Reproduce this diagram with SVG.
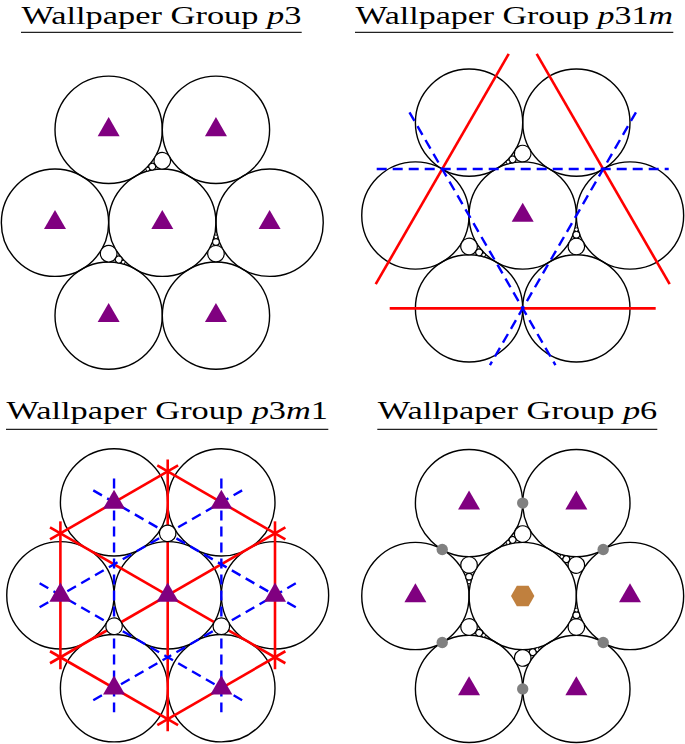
<svg xmlns="http://www.w3.org/2000/svg" xmlns:xlink="http://www.w3.org/1999/xlink" width="685" height="744" viewBox="0 0 685 744">
<style>
.t{font-family:"Liberation Serif","Times New Roman",serif;font-size:25.5px;fill:#000}
.i{font-style:italic}
.ul{stroke:#222;stroke-width:1.3}
.c{fill:none;stroke:#000;stroke-width:1.4}
.s{fill:#fff;stroke:#000;stroke-width:1.2}
.ss{fill:#fff;stroke:#000;stroke-width:0.9}
.red{stroke:#f00;stroke-width:2.6;fill:none}
.blue{stroke:#00f;stroke-width:2.4;stroke-dasharray:10 6;fill:none}
.tri{fill:#800080}
.dot{fill:#808080}
.hex{fill:#c0803e}
</style>
<defs>
<path id="tri" class="tri" d="M0,-12.7 L11,6.35 L-11,6.35 Z"/>
<g id="ring">
<circle class="c" cx="0" cy="0" r="53.65"/>
<circle class="c" cx="-53.65" cy="-92.92" r="53.65"/>
<circle class="c" cx="53.65" cy="-92.92" r="53.65"/>
<circle class="c" cx="-107.3" cy="0" r="53.65"/>
<circle class="c" cx="107.3" cy="0" r="53.65"/>
<circle class="c" cx="-53.65" cy="92.92" r="53.65"/>
<circle class="c" cx="53.65" cy="92.92" r="53.65"/>
</g>
<g id="gap">
<circle class="s" cx="53.65" cy="30.97" r="8.3"/>
<circle class="s" cx="53.65" cy="19.31" r="3.37"/>
<circle class="ss" cx="53.65" cy="14.11" r="1.83"/>
</g>
<circle id="ins" class="s" cx="53.65" cy="30.97" r="8.3"/>
</defs>

<g id="titles">
<text class="t" x="21.5" y="23.5" textLength="280" lengthAdjust="spacingAndGlyphs">Wallpaper Group <tspan class="i">p</tspan>3</text>
<line class="ul" x1="21" y1="32.3" x2="301.7" y2="32.3"/>
<text class="t" x="355.5" y="23.5" textLength="317.5" lengthAdjust="spacingAndGlyphs">Wallpaper Group <tspan class="i">p</tspan>31<tspan class="i">m</tspan></text>
<line class="ul" x1="355" y1="32.3" x2="673.3" y2="32.3"/>
<text class="t" x="6.5" y="419" textLength="321.5" lengthAdjust="spacingAndGlyphs">Wallpaper Group <tspan class="i">p</tspan>3<tspan class="i">m</tspan>1</text>
<line class="ul" x1="6" y1="429.3" x2="328.3" y2="429.3"/>
<text class="t" x="377.8" y="419" textLength="279.5" lengthAdjust="spacingAndGlyphs">Wallpaper Group <tspan class="i">p</tspan>6</text>
<line class="ul" x1="377.3" y1="429.3" x2="657.3" y2="429.3"/>
</g>

<g id="p3" transform="translate(162.3,222.7)">
<use xlink:href="#ring"/>
<use xlink:href="#gap"/>
<use xlink:href="#gap" transform="rotate(120)"/>
<use xlink:href="#gap" transform="rotate(240)"/>
<use xlink:href="#tri"/>
<use xlink:href="#tri" x="-53.65" y="-92.92"/>
<use xlink:href="#tri" x="53.65" y="-92.92"/>
<use xlink:href="#tri" x="-107.3" y="0"/>
<use xlink:href="#tri" x="107.3" y="0"/>
<use xlink:href="#tri" x="-53.65" y="92.92"/>
<use xlink:href="#tri" x="53.65" y="92.92"/>
</g>

<g id="p31m" transform="translate(522.7,215.5)">
<use xlink:href="#ring"/>
<g id="p31m-mirrors">
<line class="red" x1="-13.98" y1="-161.64" x2="-146.98" y2="68.72"/>
<line class="red" x1="13.98" y1="-161.64" x2="146.98" y2="68.72"/>
<line class="red" x1="-133" y1="92.92" x2="133" y2="92.92"/>
</g>
<g id="p31m-glides">
<line class="blue" x1="-146" y1="-46.46" x2="146" y2="-46.46"/>
<line class="blue" x1="-113.24" y1="-103.21" x2="32.76" y2="149.67"/>
<line class="blue" x1="113.24" y1="-103.21" x2="-32.76" y2="149.67"/>
</g>
<use xlink:href="#gap"/>
<use xlink:href="#gap" transform="rotate(120)"/>
<use xlink:href="#gap" transform="rotate(240)"/>
<use xlink:href="#tri"/>
</g>

<g id="p3m1" transform="translate(167.7,595.3)">
<use xlink:href="#ring"/>
<g id="p3m1-mirrors">
<line class="red" x1="-107.3" y1="-73.95" x2="-107.3" y2="73.95"/>
<line class="red" x1="0" y1="-135.9" x2="0" y2="135.9"/>
<line class="red" x1="107.3" y1="-73.95" x2="107.3" y2="73.95"/>
<line class="red" x1="-117.69" y1="-67.95" x2="117.69" y2="67.95"/>
<line class="red" x1="-10.39" y1="-129.9" x2="117.69" y2="-55.95"/>
<line class="red" x1="-117.69" y1="55.95" x2="10.39" y2="129.9"/>
<line class="red" x1="-117.69" y1="67.95" x2="117.69" y2="-67.95"/>
<line class="red" x1="-117.69" y1="-55.95" x2="10.39" y2="-129.9"/>
<line class="red" x1="-10.39" y1="129.9" x2="117.69" y2="55.95"/>
</g>
<g id="p3m1-glides">
<line class="blue" x1="-53.65" y1="-116.92" x2="-53.65" y2="116.92"/>
<line class="blue" x1="53.65" y1="-116.92" x2="53.65" y2="116.92"/>
<line class="blue" x1="-74.43" y1="-104.92" x2="128.08" y2="12"/>
<line class="blue" x1="-128.08" y1="-12" x2="74.43" y2="104.92"/>
<line class="blue" x1="-128.08" y1="12" x2="74.43" y2="-104.92"/>
<line class="blue" x1="-74.43" y1="104.92" x2="128.08" y2="-12"/>
</g>
<use xlink:href="#ins"/>
<use xlink:href="#ins" transform="rotate(120)"/>
<use xlink:href="#ins" transform="rotate(240)"/>
<use xlink:href="#tri"/>
<use xlink:href="#tri" x="-53.65" y="-92.92"/>
<use xlink:href="#tri" x="53.65" y="-92.92"/>
<use xlink:href="#tri" x="-107.3" y="0"/>
<use xlink:href="#tri" x="107.3" y="0"/>
<use xlink:href="#tri" x="-53.65" y="92.92"/>
<use xlink:href="#tri" x="53.65" y="92.92"/>
</g>

<g id="p6" transform="translate(522.7,596)">
<use xlink:href="#ring"/>
<use xlink:href="#gap"/>
<use xlink:href="#gap" transform="rotate(60)"/>
<use xlink:href="#gap" transform="rotate(120)"/>
<use xlink:href="#gap" transform="rotate(180)"/>
<use xlink:href="#gap" transform="rotate(240)"/>
<use xlink:href="#gap" transform="rotate(300)"/>
<circle class="dot" cx="0" cy="-92.92" r="5.7"/>
<circle class="dot" cx="80.48" cy="-46.46" r="5.7"/>
<circle class="dot" cx="80.48" cy="46.46" r="5.7"/>
<circle class="dot" cx="0" cy="92.92" r="5.7"/>
<circle class="dot" cx="-80.48" cy="46.46" r="5.7"/>
<circle class="dot" cx="-80.48" cy="-46.46" r="5.7"/>
<polygon class="hex" points="11.7,0 5.85,10.13 -5.85,10.13 -11.7,0 -5.85,-10.13 5.85,-10.13"/>
<use xlink:href="#tri" x="-53.65" y="-92.92"/>
<use xlink:href="#tri" x="53.65" y="-92.92"/>
<use xlink:href="#tri" x="-107.3" y="0"/>
<use xlink:href="#tri" x="107.3" y="0"/>
<use xlink:href="#tri" x="-53.65" y="92.92"/>
<use xlink:href="#tri" x="53.65" y="92.92"/>
</g>
</svg>
